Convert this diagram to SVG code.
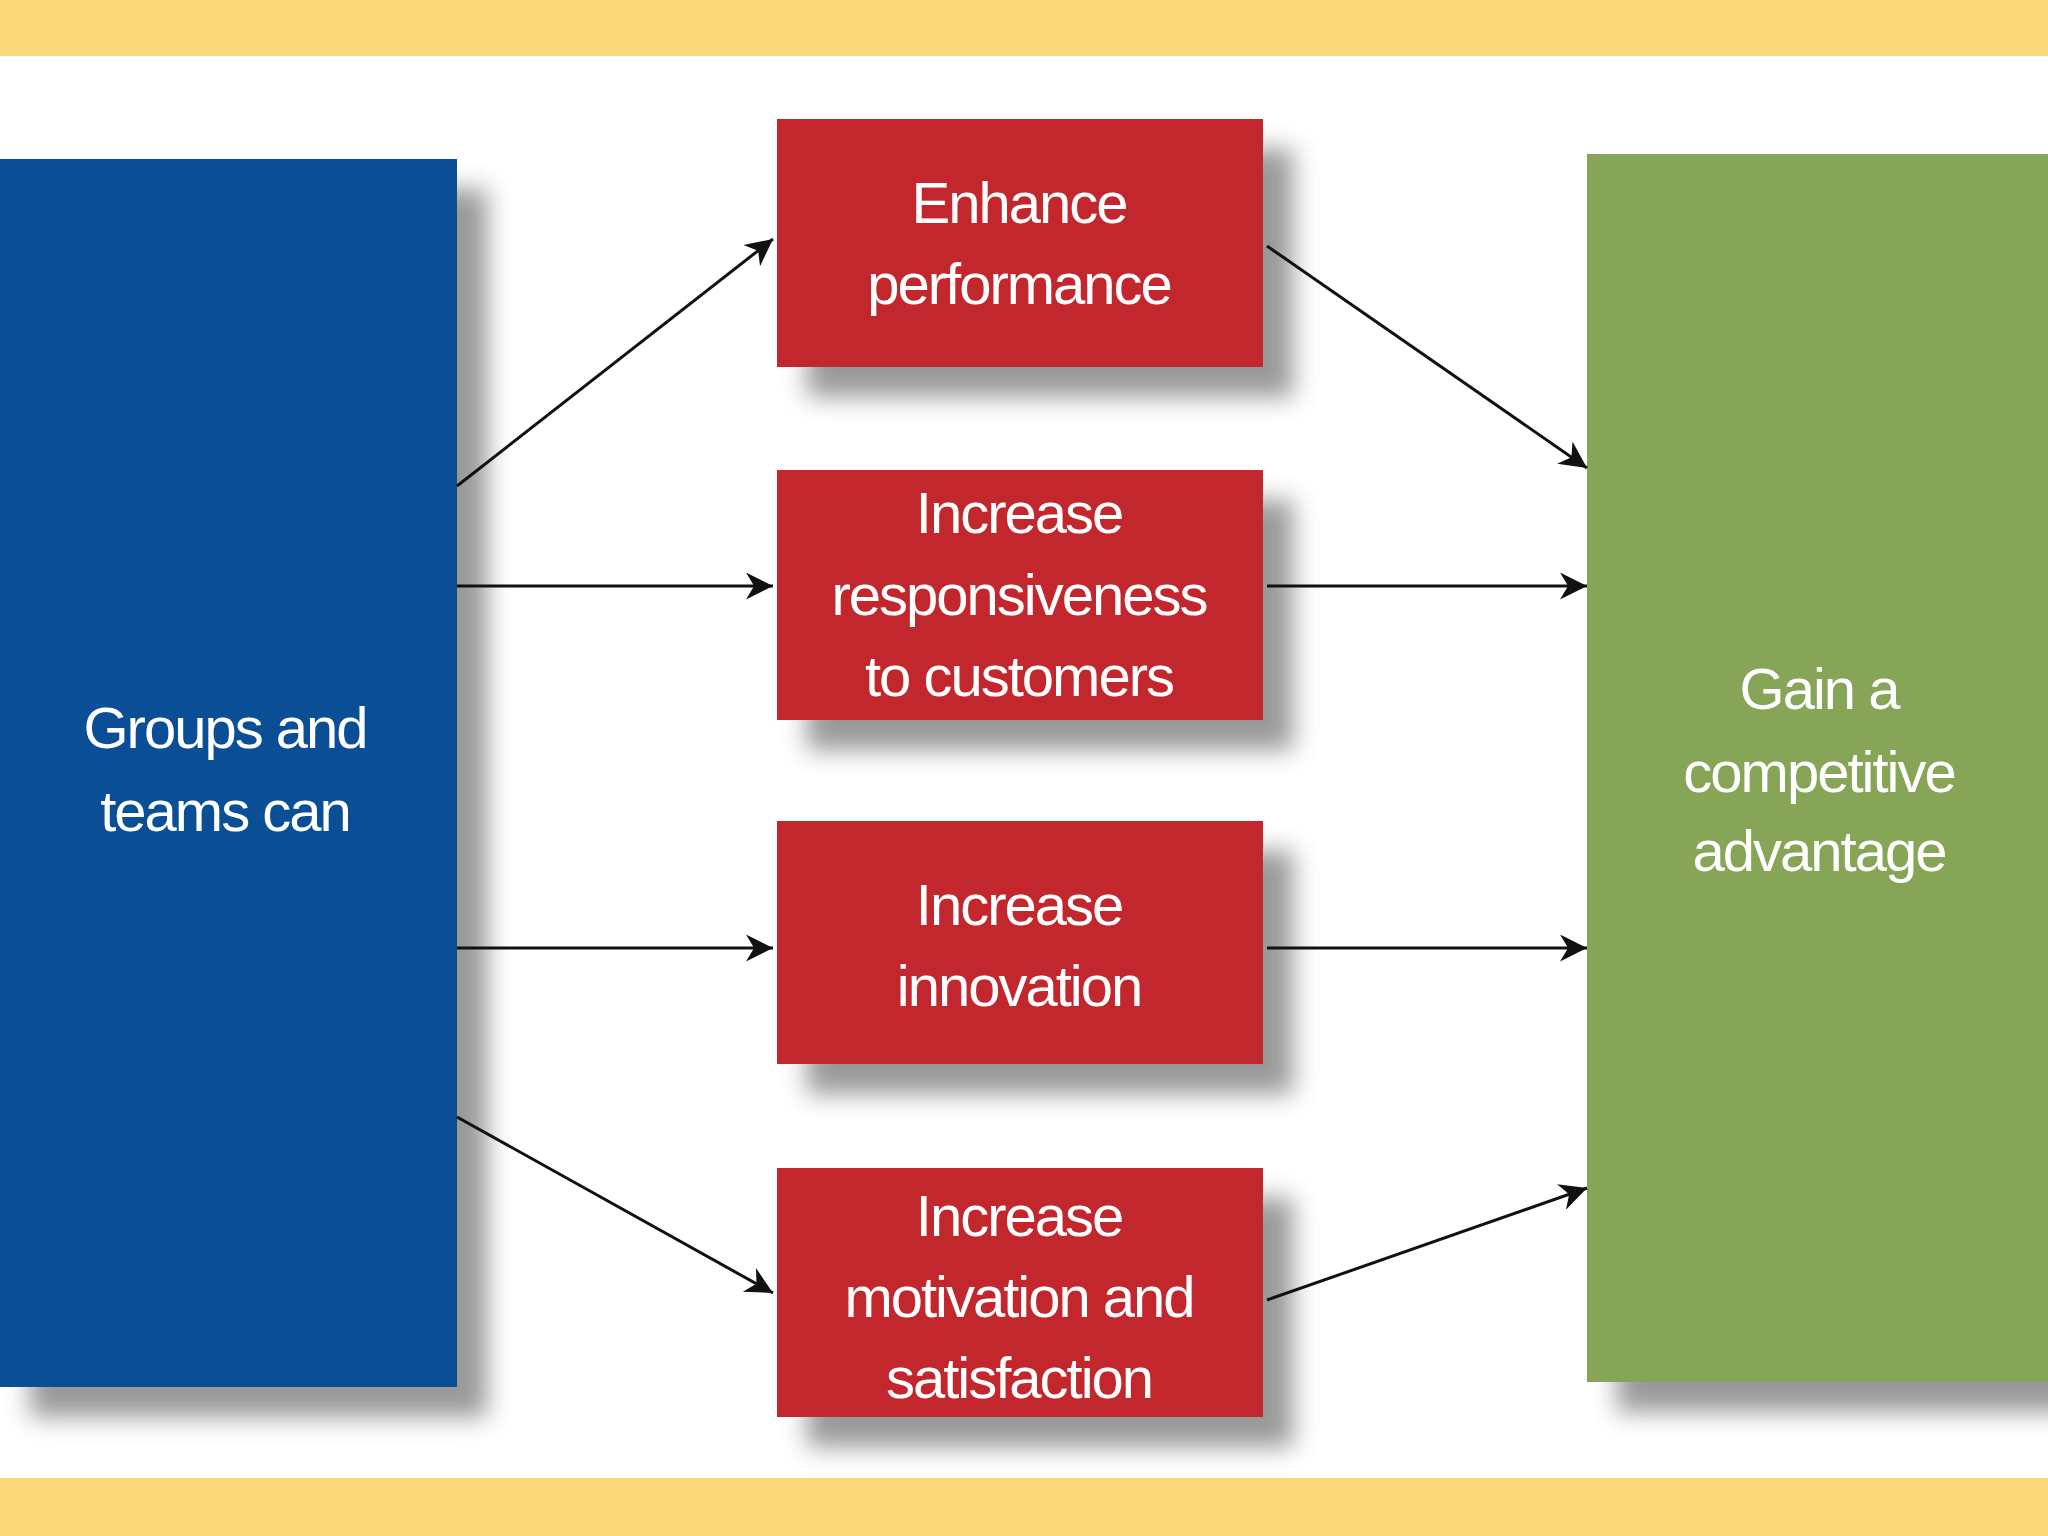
<svg xmlns="http://www.w3.org/2000/svg" width="2048" height="1536" viewBox="0 0 2048 1536">
<defs>
<filter id="sh" x="-20%" y="-20%" width="150%" height="150%"><feGaussianBlur stdDeviation="12"/></filter>
<marker id="ah" viewBox="0 0 10 10" refX="10" refY="5" markerWidth="12" markerHeight="10" markerUnits="userSpaceOnUse" orient="auto"><path d="M0,0 L10,5 L0,10 L3,5 z" fill="#111"/></marker>
<marker id="a" viewBox="0 0 10 10" refX="10" refY="5" markerWidth="11" markerHeight="9" orient="auto"><path d="M0,0 L10,5 L0,10 L3,5 z" fill="#111"/></marker>
</defs>
<style>
.t{font-family:"Liberation Sans",Arial,sans-serif;font-size:58px;fill:#fff;text-anchor:middle;dominant-baseline:central;letter-spacing:-2px}
.red{fill:#c1272d}
.s{fill:#777;opacity:.75;filter:url(#sh)}
.c{stroke:#111;stroke-width:3;fill:none;marker-end:url(#a)}
</style>
<rect width="2048" height="1536" fill="#fff"/>
<rect width="2048" height="56" fill="#fbd97a"/>
<rect y="1478" width="2048" height="58" fill="#fbd97a"/>
<g id="groups"><rect class="s" x="30" y="189" width="457" height="1228"/><rect x="0" y="159" width="457" height="1228" fill="#0a4f96"/>
<text class="t" x="225" y="727">Groups and</text><text class="t" x="225" y="810">teams can</text></g>
<g id="gain"><rect class="s" x="1617" y="184" width="461" height="1228"/><rect x="1587" y="154" width="461" height="1228" fill="#86a557"/>
<text class="t" x="1819" y="688">Gain a</text><text class="t" x="1819" y="771">competitive</text><text class="t" x="1819" y="850">advantage</text></g>
<g id="perf"><rect class="s" x="807" y="149" width="486" height="248"/><rect class="red" x="777" y="119" width="486" height="248"/>
<text class="t" x="1019" y="202">Enhance</text><text class="t" x="1019" y="283">performance</text></g>
<g id="resp"><rect class="s" x="807" y="500" width="486" height="250"/><rect class="red" x="777" y="470" width="486" height="250"/>
<text class="t" x="1019" y="512">Increase</text><text class="t" x="1019" y="594">responsiveness</text><text class="t" x="1019" y="675">to customers</text></g>
<g id="innov"><rect class="s" x="807" y="851" width="486" height="243"/><rect class="red" x="777" y="821" width="486" height="243"/>
<text class="t" x="1019" y="904">Increase</text><text class="t" x="1019" y="985">innovation</text></g>
<g id="motiv"><rect class="s" x="807" y="1198" width="486" height="249"/><rect class="red" x="777" y="1168" width="486" height="249"/>
<text class="t" x="1019" y="1215">Increase</text><text class="t" x="1019" y="1296">motivation and</text><text class="t" x="1019" y="1377">satisfaction</text></g>
<g id="connectors">
<line class="c" x1="457" y1="486" x2="773" y2="239"/>
<line class="c" x1="457" y1="586" x2="773" y2="586"/>
<line class="c" x1="457" y1="948" x2="773" y2="948"/>
<line class="c" x1="457" y1="1117" x2="773" y2="1293"/>
<line class="c" x1="1267" y1="246" x2="1587" y2="468"/>
<line class="c" x1="1267" y1="586" x2="1587" y2="586"/>
<line class="c" x1="1267" y1="948" x2="1587" y2="948"/>
<line class="c" x1="1267" y1="1300" x2="1587" y2="1188"/>
</g>
</svg>
